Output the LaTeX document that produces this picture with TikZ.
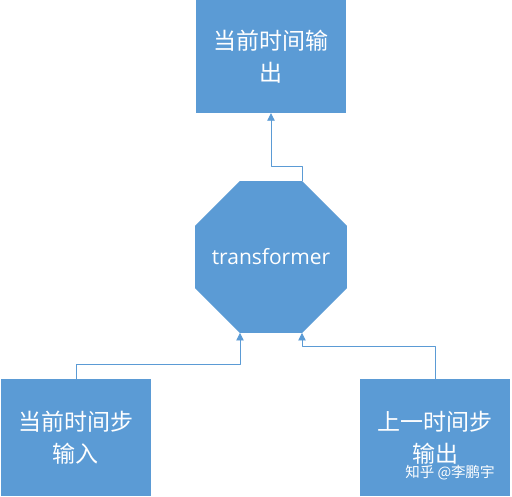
\documentclass[tikz,border=0pt]{standalone}
\usepackage{fontspec}
\newfontfamily\cjk{Noto Sans CJK SC}
\newfontfamily\lat{Open Sans}
\usetikzlibrary{shapes.geometric,arrows.meta}
\definecolor{boxblue}{HTML}{5B9BD5}
\begin{document}
\begin{tikzpicture}[x=1pt, y=-1pt, line join=round,
  box/.style={fill=boxblue, text=white, minimum width=150pt, align=center, font=\cjk\fontsize{23}{32}\selectfont},
  conn/.style={draw=boxblue, line width=0.9pt, -{Triangle[width=7.5pt,length=7.5pt]}}]
\useasboundingbox (0,0) rectangle (512,496);
\node[box, minimum height=113pt] (out) at (271,56.5) {当前时间输\\出};
\node[regular polygon, regular polygon sides=8, fill=boxblue, text=white, inner sep=0pt, minimum size=164pt, font=\lat\fontsize{21}{25}\selectfont] (tf) at (271,257) {\makebox[0pt]{transformer}};
\node[box, minimum height=117pt] (cur) at (76,437.5) {当前时间步\\输入};
\node[box, minimum height=117pt] (prev) at (435,437.5) {上一时间步\\输出};
\node[text=white, font=\cjk\fontsize{14.5}{16}\selectfont] (wm) at (450,473) {知乎 @李鹏宇};
\draw[conn] ([xshift=31pt]tf.north) -- ++(0,15pt) -| (out.south);
\draw[conn] (cur.north) -- ++(0,14pt) -| ([xshift=-31pt]tf.south);
\draw[conn] (prev.north) -- ++(0,32pt) -| ([xshift=31pt]tf.south);
\end{tikzpicture}
\end{document}
